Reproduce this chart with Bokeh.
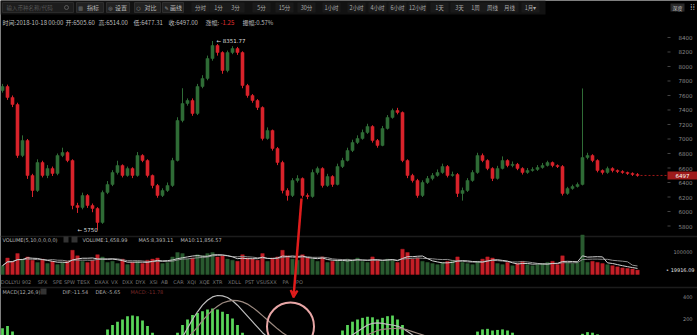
from bokeh.plotting import figure
from bokeh.models import Range1d, Arrow, VeeHead, ColumnDataSource
from bokeh.core.properties import value
from bokeh.embed import file_html
from bokeh.resources import INLINE
import pandas as pd

# ---------------- data ----------------
first_open = 7669
closes = [
    7724, 7573, 7476, 6773, 6980, 6497, 6290, 6676, 6497, 6594,
    6525, 6773, 6814, 6704, 6083, 6056, 6221, 6083, 6042, 5849,
    6263, 6373, 6538, 6635, 6497, 6594, 6497, 6773, 6704, 6497,
    6359, 6221, 6290, 6359, 6704, 7255, 7490, 7531, 7352, 7724,
    7835, 8110, 8290, 8193, 7945, 8193, 8248, 8193, 7738, 7600,
    7531, 7435, 7007, 7118, 6869, 6676, 6290, 6221, 6428, 6456,
    6221, 6207, 6538, 6594, 6359, 6483, 6373, 6621, 6704, 6842,
    6952, 7007, 7090, 7173, 6980, 6911, 7145, 7297, 7393, 7366,
    6704, 6497, 6428, 6221, 6400, 6456, 6497, 6538, 6621, 6497,
    6510, 6249, 6290, 6428, 6538, 6773, 6704, 6594, 6456, 6594,
    6704, 6635, 6650, 6594, 6538, 6566, 6580, 6607, 6635, 6676,
    6635, 6621, 6249, 6318, 6345, 6373, 6745, 6773, 6704, 6566,
    6538, 6594, 6566, 6552, 6538, 6525, 6511, 6497,
]
highs = [
    7760, 7750, 7600, 7500, 7050, 7000, 6520, 6720, 6700, 6640,
    6620, 6800, 6880, 6830, 6720, 6120, 6260, 6240, 6110, 6060,
    6290, 6420, 6570, 6700, 6650, 6620, 6610, 6820, 6790, 6720,
    6510, 6380, 6320, 6400, 6740, 7300, 7700, 7560, 7560, 7760,
    7880, 8150, 8352, 8310, 8210, 8220, 8280, 8270, 8210, 7760,
    7620, 7550, 7450, 7160, 7130, 6890, 6700, 6320, 6460, 6500,
    6470, 6250, 6580, 6620, 6610, 6520, 6500, 6660, 6740, 6880,
    6990, 7050, 7130, 7210, 7190, 7000, 7180, 7330, 7420, 7430,
    7380, 6720, 6520, 6450, 6430, 6490, 6530, 6580, 6660, 6640,
    6550, 6530, 6330, 6460, 6570, 6810, 6800, 6720, 6610, 6630,
    6760, 6720, 6690, 6670, 6610, 6600, 6610, 6640, 6670, 6700,
    6690, 6650, 6640, 6340, 6370, 6400, 7697, 6810, 6790, 6720,
    6580, 6620, 6610, 6580, 6570, 6550, 6540, 6530,
]
lows = [
    7640, 7540, 7440, 6740, 6750, 6450, 6200, 6270, 6470, 6460,
    6490, 6500, 6750, 6680, 6030, 5980, 6030, 6050, 5990, 5750,
    5830, 6240, 6350, 6510, 6470, 6480, 6460, 6480, 6680, 6470,
    6320, 6190, 6200, 6270, 6340, 6690, 7230, 7460, 7320, 7330,
    7700, 7810, 8080, 8150, 7900, 7920, 8170, 8160, 7700, 7570,
    7500, 7400, 6980, 6990, 6840, 6640, 6250, 6150, 6200, 6400,
    6190, 6170, 6190, 6510, 6330, 6340, 6340, 6360, 6600, 6690,
    6820, 6930, 6990, 7070, 6950, 6880, 6900, 7130, 7280, 7340,
    6680, 6460, 6400, 6190, 6200, 6380, 6430, 6480, 6520, 6470,
    6480, 6200, 6150, 6270, 6410, 6520, 6680, 6570, 6420, 6440,
    6580, 6610, 6610, 6570, 6510, 6520, 6550, 6560, 6590, 6620,
    6610, 6600, 6220, 6230, 6300, 6330, 6360, 6720, 6680, 6540,
    6510, 6520, 6540, 6530, 6520, 6505, 6490, 6480,
]
volumes_k = [
    40, 75, 60, 95, 70, 80, 65, 55, 70, 50,
    60, 45, 55, 60, 110, 85, 60, 55, 65, 90,
    80, 55, 60, 50, 70, 45, 55, 60, 50, 65,
    70, 75, 50, 55, 80, 100, 95, 70, 75, 90,
    85, 95, 100, 80, 85, 70, 65, 60, 90, 75,
    70, 65, 95, 60, 75, 80, 110, 85, 70, 65,
    90, 75, 70, 60, 80, 55, 60, 65, 60, 70,
    65, 75, 60, 55, 80, 65, 60, 70, 65, 55,
    115, 100, 70, 75, 60, 55, 50, 45, 55, 60,
    65, 80, 55, 50, 45, 60, 70, 80, 75, 50,
    45, 55, 40, 50, 60, 45, 40, 45, 50, 55,
    60, 45, 85, 55, 50, 55, 180, 55, 60, 55,
    50, 45, 40, 35, 30, 28, 25, 20,
]
macd_hist = [
    120, 140, 90, 40, -30, -60, -90, -100, -110, -120,
    -110, -100, -90, -100, -130, -140, -130, -110, -90, -60,
    60, 110, 150, 180, 200, 230, 236, 230, 190, 140,
    80, 20, -20, -10, 30, 80, 150, 200, 240, 260,
    275, 290, 300, 290, 270, 250, 210, 150, 80, 10,
    -60, -120, -180, -200, -220, -230, -240, -230, -200, -180,
    -160, -140, -110, -90, -70, -50, -20, 40, 100, 150,
    180, 200, 215, 225, 220, 200, 215, 230, 236, 200,
    150, 60, -40, -90, -120, -130, -120, -100, -80, -60,
    -50, -60, -40, -20, 40, 90, 110, 115, 100, 105,
    110, 100, 80, 40, 10, -10, -20, -25, -20, -15,
    -10, -20, -30, -10, 10, 30, 70, 85, 80, 65,
    50, 30, 20, 10, 0, -5, -8, -12,
]
dif = [
    40, 30, 10, -40, -60, -80, -100, -110, -115, -120,
    -120, -118, -115, -118, -125, -130, -128, -120, -110, -90,
    -60, -40, -20, 0, 10, 20, 30, 35, 30, 20,
    0, -20, -30, -25, -10, 10, 40, 120, 200, 270,
    330, 375, 405, 418, 415, 400, 370, 330, 280, 230,
    180, 130, 80, 40, 0, -30, -70, -110, -130, -140,
    -145, -140, -130, -110, -90, -70, -50, -30, -10, 20,
    60, 90, 120, 150, 165, 170, 165, 155, 150, 140,
    120, 90, 60, 30, 0, -20, -40, -50, -55, -55,
    -50, -45, -35, -25, -15, -5, 5, 15, 20, 25,
    28, 30, 28, 25, 20, 15, 10, 5, 0, -5,
    -10, -12, -8, 0, 5, 8, 6, 3, 0, -3,
    -6, -8, -10, -11, -11.5, -11.5, -11.5, -11.54,
]
dea = [
    20, 22, 20, 10, -5, -20, -35, -50, -63, -74,
    -83, -90, -95, -100, -105, -110, -114, -115, -114, -109,
    -99, -87, -74, -59, -45, -32, -19, -8, 0, 4,
    3, -2, -8, -11, -11, -7, 3, 30, 80, 130,
    190, 240, 285, 320, 350, 365, 373, 372, 360, 340,
    310, 275, 235, 195, 155, 115, 80, 50, 20, -5,
    -25, -45, -60, -70, -75, -76, -72, -66, -55, -40,
    -20, 10, 40, 60, 80, 100, 110, 115, 118, 118,
    115, 105, 90, 75, 60, 45, 30, 15, 5, -5,
    -12, -18, -22, -24, -24, -22, -18, -13, -8, -3,
    1, 5, 8, 10, 11, 11, 10, 9, 7, 5,
    3, 1, -1, -1, 0, 1, 2, 2, 1, 0,
    -1, -2, -3, -4, -5, -5.5, -5.6, -5.65,
]
price_ticks = [8400, 8200, 8000, 7800, 7600, 7400, 7200, 7000, 6800, 6600, 6400, 6200, 6000, 5800]
vol_ticks = [100000]
macd_ticks = [400, 200]
high_label = "8351.77"
low_label = "5750"
last_vol_label = "19916.09"

info_texts = ["时间:2018-10-18 00:00", "开:6505.60", "高:6514.00", "低:6477.31", "收:6497.00", "涨幅:", "-1.25", "振幅:0.57%"]
info_x = [2, 65, 98, 133, 168, 205, 220, 242]
info_colors = ["#bdbdbd"] * 5 + ["#bdbdbd", "#e03030", "#bdbdbd"]

tool_buttons = ["指标", "设置", "对比", "画线"]
tool_btn_left = [76, 106, 134, 162]
tool_btn_right = [103, 129, 160, 183]
intervals = ["分时", "1分", "3分", "5分", "15分", "30分", "1小时", "2小时", "4小时", "6小时",
             "12小时", "1天", "3天", "1周", "周线", "月线", "1月▾"]
interval_x = [200, 218, 235, 261, 284, 306, 331, 356, 377, 397, 417, 439, 459, 475, 492, 509, 530]

xrow_tokens = ["DOLLYU", "902", "SPX", "SPE", "SPW", "TESX", "DXAX", "VX", "DXX", "DYX",
               "XSI", "AB", "CAR", "XQI", "XQE", "XTR", "XDLL", "PST", "VSUSXX", "PA", "PO"]
xrow_x = [10, 26, 42, 57, 69, 83, 101, 114, 127, 140, 153, 164, 178, 191, 204, 217, 234, 249, 266, 285, 299]

# ---------------- derived ----------------
n = len(closes)
opens = [first_open] + closes[:-1]
idx = list(range(n))
up = [c >= o for o, c in zip(opens, closes)]
RED = "#d8232b"
GREEN = "#2f6c36"
df = pd.DataFrame(dict(i=idx, o=opens, c=closes, h=highs, l=lows,
                       top=[max(o, c) for o, c in zip(opens, closes)],
                       bot=[min(o, c) for o, c in zip(opens, closes)],
                       col=[GREEN if u else RED for u in up],
                       vcol=["#2a5a30" if u else "#c41f27" for u in up],
                       vol=[v * 1000 for v in volumes_k],
                       hist=macd_hist, dif=dif, dea=dea))
df["ma5"] = df["vol"].rolling(5, min_periods=1).mean()
df["ma10"] = df["vol"].rolling(10, min_periods=1).mean()
df["hcol"] = ["#5ad65a" if h >= 0 else "#c02020" for h in macd_hist]
src = ColumnDataSource(df)

W, H = 697, 335
p = figure(width=W, height=H, output_backend="svg", toolbar_location=None,
           x_range=Range1d(0, W), y_range=Range1d(H, 0),
           x_axis_location=None, y_axis_location=None, min_border=0)
p.background_fill_color = "black"
p.border_fill_color = "black"
p.outline_line_color = None
p.grid.visible = False

# ranges mapping into bands of the canvas
p.extra_x_ranges = {"idx": Range1d(-0.4, 139.0)}
p.extra_y_ranges = {
    "price": Range1d(4289.7, 8910.3),
    "vol": Range1d(-277273, 1245455),
    "macd": Range1d(54.5, 3100),
}

# separators
p.segment(x0=[0, 0], x1=[W, W], y0=[236, 287], y1=[236, 287], line_color="#1c1c1c", line_width=1.5)

# toolbar
p.quad(left=[0], right=[545], top=[0], bottom=[14], fill_color="#121212", line_color=None)
p.quad(left=[2], right=[73], top=[2], bottom=[12], fill_color="#1d1d1d", line_color="#2a2a2a")
p.text(x=[6], y=[7], text=["输入币种名称/代码"], text_font=value("Noto Sans CJK SC"), text_font_size="5.5px",
       text_color="#555", text_baseline="middle")
p.circle(x=[66], y=[7], radius=2, radius_units="screen", fill_color=None, line_color="#666", line_width=0.8)
p.quad(left=tool_btn_left, right=tool_btn_right, top=[2] * 4, bottom=[12] * 4, fill_color="#222", line_color="#2e2e2e")
p.text(x=[(a + b) / 2 + 3 for a, b in zip(tool_btn_left, tool_btn_right)], y=[7] * 4, text=tool_buttons,
       text_font=value("Noto Sans CJK SC"), text_font_size="6px", text_color="#bbb",
       text_align="center", text_baseline="middle")
p.text(x=[a + 4 for a in tool_btn_left], y=[7] * 4, text=["▥", "◎", "○", "✎"],
       text_font=value("DejaVu Sans"), text_font_size="5px", text_color="#999",
       text_align="center", text_baseline="middle")
p.quad(left=[x - 9 for x in interval_x], right=[x + 9 for x in interval_x], top=[2] * len(interval_x),
       bottom=[12] * len(interval_x), fill_color="#1a1a1a", line_color=None)
p.text(x=interval_x, y=[7] * len(interval_x), text=intervals, text_font=value("Noto Sans CJK SC"),
       text_font_size="5.5px", text_color="#aaa", text_align="center", text_baseline="middle")
p.quad(left=[670], right=[684], top=[3], bottom=[11], fill_color="#2a2a2a", line_color=None)
p.text(x=[677], y=[7], text=["深度"], text_font=value("Noto Sans CJK SC"), text_font_size="5px",
       text_color="#ccc", text_align="center", text_baseline="middle")
p.text(x=[692], y=[7], text=["⁞⁞"], text_font=value("DejaVu Sans"), text_font_size="8px",
       text_color="#aaa", text_align="center", text_baseline="middle")

# info line
p.text(x=info_x, y=[22] * len(info_x), text=info_texts, text_color=info_colors,
       text_font=value("Noto Sans CJK SC"), text_font_size="6px", text_baseline="middle")

# candles
p.segment(x0="i", x1="i", y0="l", y1="h", source=src, line_color="col", line_width=1,
          x_range_name="idx", y_range_name="price")
p.vbar(x="i", width=0.62, top="top", bottom="bot", source=src, fill_color="col", line_color="col",
       line_width=0.5, x_range_name="idx", y_range_name="price")

# high / low markers
hi_i = highs.index(max(highs[:60]))
lo_i = lows.index(min(lows))
p.text(x=[hi_i + 0.8], y=[max(highs[:60])], text=["← " + high_label], x_range_name="idx", y_range_name="price",
       text_font=value("DejaVu Sans"), text_font_size="5.5px", text_color="#ddd", text_baseline="middle")
p.text(x=[lo_i - 4.0], y=[min(lows)], text=["← " + low_label], x_range_name="idx", y_range_name="price",
       text_font=value("DejaVu Sans"), text_font_size="5.5px", text_color="#ddd", text_baseline="middle")

# price axis labels
p.segment(x0=[667] * len(price_ticks), x1=[670] * len(price_ticks), y0=price_ticks, y1=price_ticks,
          y_range_name="price", line_color="#444", line_width=1)
p.text(x=[692] * len(price_ticks), y=price_ticks, text=[str(t) for t in price_ticks], y_range_name="price",
       text_font=value("DejaVu Sans"), text_font_size="5.5px", text_color="#8a8a8a",
       text_align="right", text_baseline="middle")
# last price marker
p.line(x=[640, 667], y=[closes[-1], closes[-1]], y_range_name="price", line_color="#a01818",
       line_dash="2 2", line_width=1)
p.rect(x=[682], y=[closes[-1]], width=30, height=8, height_units="screen", y_range_name="price",
       fill_color="#9e1b1b", line_color=None)
p.text(x=[682], y=[closes[-1]], text=[str(closes[-1])], y_range_name="price",
       text_font=value("DejaVu Sans"), text_font_size="5.5px", text_color="#fff",
       text_align="center", text_baseline="middle")

# volume panel
p.text(x=[2, 82, 138, 180], y=[239] * 4,
       text=["VOLUME(5,10,0,0,0,0)", "VOLUME:1,658.99", "MA5:8,393.11", "MA10:11,856.57"],
       text_font=value("DejaVu Sans"), text_font_size="5px", text_color="#bbb", text_baseline="middle")
p.quad(left=[63, 71], right=[68, 77], top=[236, 236], bottom=[242, 242], fill_color="#333", line_color=None)
p.vbar(x="i", width=0.7, top="vol", bottom=0, source=src, fill_color="vcol", line_color="vcol",
       line_width=0.4, x_range_name="idx", y_range_name="vol")
p.line(x="i", y="ma10", source=src, line_color="#8c8c8c", line_width=1, x_range_name="idx", y_range_name="vol")
p.line(x="i", y="ma5", source=src, line_color="#d0d0d0", line_width=1, x_range_name="idx", y_range_name="vol")
p.text(x=[692], y=vol_ticks, text=[str(t) for t in vol_ticks], y_range_name="vol",
       text_font=value("DejaVu Sans"), text_font_size="5px", text_color="#8a8a8a",
       text_align="right", text_baseline="middle")
p.text(x=[694], y=[volumes_k[-1] * 1000], text=["• " + last_vol_label], y_range_name="vol",
       text_font=value("DejaVu Sans"), text_font_size="5px", text_color="#e0e0e0",
       text_align="right", text_baseline="middle")

# x row tokens
p.text(x=xrow_x, y=[281] * len(xrow_x), text=xrow_tokens, text_font=value("DejaVu Sans"),
       text_font_size="5px", text_color="#777", text_align="center", text_baseline="middle")

# MACD panel
p.text(x=[2, 62, 95, 130], y=[291] * 4, text=["MACD(12,26,9)", "DIF:-11.54", "DEA:-5.65", "MACD:-11.78"],
       text_color=["#aaa", "#aaa", "#aaa", "#7a2a2a"], text_font=value("DejaVu Sans"), text_font_size="5px",
       text_baseline="middle")
p.quad(left=[40], right=[46], top=[288], bottom=[294], fill_color="#333", line_color=None)
p.vbar(x="i", width=0.55, top="hist", bottom=0, source=src, fill_color="hcol", line_color=None,
       x_range_name="idx", y_range_name="macd")
p.line(x="i", y="dif", source=src, line_color="#bdbdbd", line_width=1.2, x_range_name="idx", y_range_name="macd")
p.line(x="i", y="dea", source=src, line_color="#9c8a80", line_width=1.2, x_range_name="idx", y_range_name="macd")
p.text(x=[692] * len(macd_ticks), y=macd_ticks, text=[str(t) for t in macd_ticks], y_range_name="macd",
       text_font=value("DejaVu Sans"), text_font_size="5px", text_color="#8a8a8a",
       text_align="right", text_baseline="middle")

# hand-drawn red annotation (arrow + circle)
p.add_layout(Arrow(end=VeeHead(size=7, line_color="#e01c1c", line_width=2), x_start=301, y_start=198,
                   x_end=293, y_end=297, line_color="#e01c1c", line_width=2.5))
p.ellipse(x=[290], y=[326], width=47, height=48, width_units="screen", height_units="screen",
          fill_color=None, line_color="#e8a6a6", line_width=2)

open("out.html", "w").write(file_html(p, INLINE))
